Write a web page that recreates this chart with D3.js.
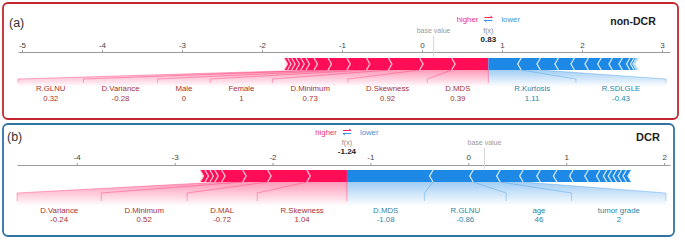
<!DOCTYPE html>
<html><head><meta charset="utf-8">
<script src="https://cdn.jsdelivr.net/npm/d3@7"></script>
<style>
body{margin:0;background:#fff;}
svg{display:block;font-family:"Liberation Sans",Arial,Helvetica,sans-serif;}
</style>
</head><body>
<svg id="c" width="685" height="240"></svg>
<script>
// ---------------- DATA ----------------
// Panel (a) non-DCR
const aTitle = "non-DCR";
const aOut = 0.83;
const aPosNames = ["D.MDS", "D.Skewness", "D.Minimum", "Female", "Male", "D.Variance", "R.GLNU"];
const aPosValues = ["0.39", "0.92", "0.73", "1", "0", "-0.28", "0.32"];
const aPosEffects = [0.46, 0.40, 0.39, 0.275, 0.245, 0.235, 0.175, 0.10, 0.065, 0.06, 0.055, 0.05, 0.045];
const aNegNames = ["R.Kurtosis", "R.SDLGLE"];
const aNegValues = ["1.11", "-0.43"];
const aNegEffects = [0.41, 0.24, 0.225, 0.20, 0.175, 0.16, 0.14, 0.125, 0.095, 0.05, 0.03, 0.02];
const aTicks = [-5, -4, -3, -2, -1, 0, 1, 2, 3];
const aDomain = [-5.05, 3.1];

// Panel (b) DCR
const bTitle = "DCR";
const bOut = -1.24;
const bPosNames = ["R.Skewness", "D.MAL", "D.Minimum", "D.Variance"];
const bPosValues = ["1.04", "-0.72", "0.52", "-0.24"];
const bPosEffects = [0.41, 0.40, 0.255, 0.215, 0.07, 0.05, 0.05, 0.05];
const bNegNames = ["D.MDS", "R.GLNU", "age", "tumor grade"];
const bNegValues = ["-1.08", "-0.86", "46", "2"];
const bNegEffects = [0.88, 0.41, 0.275, 0.235, 0.175, 0.17, 0.165, 0.155, 0.12, 0.07, 0.05, 0.05, 0.05, 0.05, 0.05];
const bTicks = [-4, -3, -2, -1, 0, 1, 2];
const bDomain = [-4.61, 2.06];

// ---------------- STYLE ----------------
const RED = "#ff0d57", BLUE = "#1e88e5";
const RED_SEP = "#ffc3d5", BLUE_SEP = "#d1e6fa";
const RED_TXT = "#a8322f", BLUE_TXT = "#2b86a6";

const svg = d3.select("#c");
const defs = svg.append("defs");
function makeGrad(id, color) {
  const g = defs.append("linearGradient").attr("id", id)
    .attr("x1", 0).attr("y1", 0).attr("x2", 0).attr("y2", 1);
  g.append("stop").attr("offset", "0%").attr("stop-color", color).attr("stop-opacity", 0.42);
  g.append("stop").attr("offset", "100%").attr("stop-color", color).attr("stop-opacity", 0.02);
}
makeGrad("gRed", RED);
makeGrad("gBlue", BLUE);

function segments(out, effects, dir) {
  let cur = out;
  return effects.map((e, i) => {
    const near = cur, far = cur + dir * e;
    cur = far;
    return { i, near, far };
  });
}

function drawPanel(P, D) {
  const g = svg.append("g");
  const x = d3.scaleLinear().domain(D.domain).range(P.xRange);
  const pos = segments(D.out, D.posEffects, -1);
  const neg = segments(D.out, D.negEffects, +1);
  const base = D.out - d3.sum(D.posEffects) + d3.sum(D.negEffects);
  const top = P.barTop, bot = P.barTop + P.barH, mid = (top + bot) / 2;
  const ind = 3.5;

  // border
  g.append("rect")
    .attr("x", P.border[0]).attr("y", P.border[1])
    .attr("width", P.border[2] - P.border[0]).attr("height", P.border[3] - P.border[1])
    .attr("rx", 5).attr("fill", "none")
    .attr("stroke", P.borderColor).attr("stroke-width", 1.8);

  // panel letter and title
  g.append("text").attr("x", P.letterX).attr("y", P.letterY)
    .attr("font-size", 12.5).attr("fill", "#333").text(P.letter);
  g.append("text").attr("x", P.titleX).attr("y", P.titleY)
    .attr("text-anchor", "middle").attr("font-size", P.titleSize).attr("font-weight", "bold")
    .attr("fill", "#222").text(D.title);

  // axis
  const axis = d3.axisTop(x).tickValues(D.ticks).tickFormat(d => String(d))
    .tickSize(2).tickSizeOuter(0).tickPadding(P.tickPad);
  const ag = g.append("g").attr("transform", `translate(0,${P.axisY})`).call(axis);
  ag.select(".domain").attr("stroke", "#9a9a9a");
  ag.selectAll(".tick line").attr("stroke", "#9a9a9a");
  ag.selectAll(".tick text").attr("font-size", 8).attr("fill", "#444")
    .attr("font-family", "'Liberation Sans',Arial,sans-serif");

  // base value marker
  g.append("line").attr("x1", x(base)).attr("x2", x(base))
    .attr("y1", P.fxY + 3).attr("y2", top - 1)
    .attr("stroke", "#d6d6d6").attr("stroke-width", 1);
  g.append("text").attr("x", x(base)).attr("y", P.fxY)
    .attr("text-anchor", "middle").attr("font-size", 7).attr("fill", "#9a9a9a").text("base value");

  // header: higher ⇄ lower, f(x)
  const xo = x(D.out);
  g.append("text").attr("x", xo - 10).attr("y", P.higherY).attr("text-anchor", "end")
    .attr("font-size", 7.8).attr("fill", "#e8347a").text("higher");
  g.append("text").attr("x", xo + 13).attr("y", P.higherY).attr("text-anchor", "start")
    .attr("font-size", 7.8).attr("fill", "#3b95d8").text("lower");
  const ay = P.higherY - 3;
  g.append("path").attr("d", `M${xo - 4},${ay - 1.5}H${xo + 4}M${xo + 2},${ay - 3}L${xo + 4},${ay - 1.5}`)
    .attr("stroke", RED).attr("fill", "none").attr("stroke-width", 0.9);
  g.append("path").attr("d", `M${xo + 4},${ay + 1.5}H${xo - 4}M${xo - 2},${ay + 3}L${xo - 4},${ay + 1.5}`)
    .attr("stroke", BLUE).attr("fill", "none").attr("stroke-width", 0.9);
  g.append("text").attr("x", xo).attr("y", P.fxY).attr("text-anchor", "middle")
    .attr("font-size", 7).attr("fill", "#888").text("f(x)");
  g.append("text").attr("x", xo).attr("y", P.fxValY).attr("text-anchor", "middle")
    .attr("font-size", 8).attr("font-weight", "bold").attr("fill", "#222")
    .text(D.out.toFixed(2));

  // ---- labels (measure, then layout) ----
  function buildLabels(names, values, segs, color) {
    return names.map((n, i) => {
      const t1 = g.append("text").attr("y", P.nameY).attr("text-anchor", "middle")
        .attr("font-size", 7.8).attr("fill", color).text(n);
      const t2 = g.append("text").attr("y", P.valY).attr("text-anchor", "middle")
        .attr("font-size", 7.8).attr("fill", color).text(values[i]);
      const w = Math.max(t1.node().getComputedTextLength(), t2.node().getComputedTextLength());
      return { t1, t2, w, seg: segs[i] };
    });
  }
  function layout(labels, startPx, endPx) {
    const dir = Math.sign(endPx - startPx);
    const extra = (Math.abs(endPx - startPx) - d3.sum(labels, l => l.w)) / labels.length;
    let cur = startPx;
    labels.forEach(l => {
      const bw = l.w + extra;
      l.cx = cur + dir * bw / 2;
      l.boxEnd = cur + dir * bw;
      cur = l.boxEnd;
      l.t1.attr("x", l.cx);
      l.t2.attr("x", l.cx);
    });
  }
  const posLabels = buildLabels(D.posNames, D.posValues, pos, RED_TXT);
  const negLabels = buildLabels(D.negNames, D.negValues, neg, BLUE_TXT);
  layout(posLabels, xo, P.xRange[0]);
  layout(negLabels, xo, P.xRange[1] - 4);

  const under = g.insert("g", ":first-child");
  // shading
  function shade(labels, fill) {
    const last = labels[labels.length - 1];
    const pts = [[xo, bot], [x(last.seg.far), bot], [last.boxEnd, P.diagY],
      [last.boxEnd, P.shadeY], [xo, P.shadeY]];
    under.append("path").attr("d", "M" + pts.map(p => p.join(",")).join("L") + "Z")
      .attr("fill", fill);
  }
  shade(posLabels, "url(#gRed)");
  shade(negLabels, "url(#gBlue)");
  // connectors
  function connectors(labels, color) {
    labels.forEach(l => {
      under.append("path")
        .attr("d", `M${x(l.seg.far)},${bot}L${l.boxEnd},${P.diagY}L${l.boxEnd},${P.sepY}`)
        .attr("fill", "none").attr("stroke", color).attr("stroke-opacity", 0.4).attr("stroke-width", 0.8);
    });
  }
  connectors(posLabels, RED);
  connectors(negLabels, BLUE);
  under.append("line").attr("x1", xo).attr("x2", xo).attr("y1", bot).attr("y2", P.sepY)
    .attr("stroke", RED).attr("stroke-opacity", 0.3).attr("stroke-width", 1.2);

  // ---- bars ----
  function bars(segs, color, sepColor) {
    const bg = g.append("g");
    segs.forEach(s => {
      const N = x(s.near), F = x(s.far);
      const k = Math.sign(N - F) * ind;
      const pts = s.i === 0
        ? [[F, top], [N, top], [N, bot], [F, bot], [F + k, mid]]
        : [[F, top], [N, top], [N + k * 0.9, mid], [N, bot], [F, bot], [F + k * 0.9, mid]];
      bg.append("path").attr("d", "M" + pts.map(p => p.join(",")).join("L") + "Z")
        .attr("fill", color);
    });
    segs.forEach(s => {
      const F = x(s.far);
      const k = Math.sign(x(s.near) - F) * ind;
      bg.append("path").attr("d", `M${F},${top}L${F + k},${mid}L${F},${bot}`)
        .attr("fill", "none").attr("stroke", sepColor).attr("stroke-width", 1.3);
    });
  }
  bars(pos, RED, RED_SEP);
  bars(neg, BLUE, BLUE_SEP);
}

drawPanel({
  xRange: [18, 670], axisY: 52, tickPad: 2, barTop: 58, barH: 12,
  diagY: 79, sepY: 83, shadeY: 86, nameY: 90.7, valY: 100.5,
  higherY: 22, fxY: 33, fxValY: 42,
  titleX: 633, titleY: 25, titleSize: 10.5, letter: "(a)", letterX: 9, letterY: 27,
  border: [3, 3, 678, 119], borderColor: "#c4262d"
}, {
  title: aTitle, out: aOut, posNames: aPosNames, posValues: aPosValues, posEffects: aPosEffects,
  negNames: aNegNames, negValues: aNegValues, negEffects: aNegEffects, ticks: aTicks, domain: aDomain
});

drawPanel({
  xRange: [17, 670], axisY: 165, tickPad: 3, barTop: 170, barH: 12,
  diagY: 193, sepY: 201, shadeY: 205, nameY: 212.7, valY: 221.5,
  higherY: 135, fxY: 145, fxValY: 153.5,
  titleX: 648, titleY: 141, titleSize: 11, letter: "(b)", letterX: 7, letterY: 140.5,
  border: [3, 124, 674, 236], borderColor: "#2f72a6"
}, {
  title: bTitle, out: bOut, posNames: bPosNames, posValues: bPosValues, posEffects: bPosEffects,
  negNames: bNegNames, negValues: bNegValues, negEffects: bNegEffects, ticks: bTicks, domain: bDomain
});
</script>
</body></html>
